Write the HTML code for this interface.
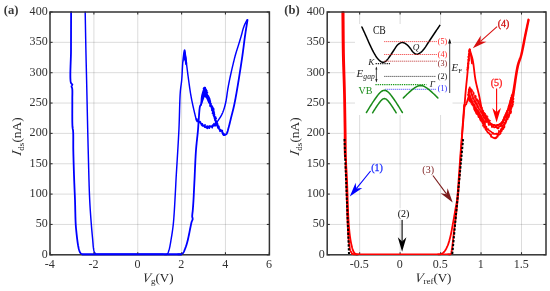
<!DOCTYPE html><html><head><meta charset="utf-8"><style>
html,body{margin:0;padding:0;background:#fff;}
svg{display:block;}
text{font-family:"Liberation Serif",serif;}
.tk{font-size:11.6px;fill:#303030;}
.al{font-size:10px;}
.alb{stroke-width:0.3px;}
.il{font-size:8px;}
.it9{font-size:9.2px;fill:#111;}
.it9i{font-size:9.2px;font-style:italic;fill:#222;}
.sub{font-size:6.5px;font-style:normal;}
.pl{font-size:12.6px;font-weight:bold;fill:#3a3a3a;}
.xl{font-size:13px;fill:#262626;}
.yl{font-size:13.4px;fill:#262626;}
.xsub{font-size:9px;}
</style></head><body><svg width="550" height="291" viewBox="0 0 550 291">
<rect width="550" height="291" fill="#fff"/>
<line x1="93.90" y1="12.0" x2="93.90" y2="254.8" stroke="#262626" stroke-opacity="0.16" stroke-width="1"/>
<line x1="137.75" y1="12.0" x2="137.75" y2="254.8" stroke="#262626" stroke-opacity="0.16" stroke-width="1"/>
<line x1="181.60" y1="12.0" x2="181.60" y2="254.8" stroke="#262626" stroke-opacity="0.16" stroke-width="1"/>
<line x1="225.45" y1="12.0" x2="225.45" y2="254.8" stroke="#262626" stroke-opacity="0.16" stroke-width="1"/>
<line x1="50.0" y1="224.45" x2="269.4" y2="224.45" stroke="#262626" stroke-opacity="0.16" stroke-width="1"/>
<line x1="50.0" y1="194.10" x2="269.4" y2="194.10" stroke="#262626" stroke-opacity="0.16" stroke-width="1"/>
<line x1="50.0" y1="163.75" x2="269.4" y2="163.75" stroke="#262626" stroke-opacity="0.16" stroke-width="1"/>
<line x1="50.0" y1="133.40" x2="269.4" y2="133.40" stroke="#262626" stroke-opacity="0.16" stroke-width="1"/>
<line x1="50.0" y1="103.05" x2="269.4" y2="103.05" stroke="#262626" stroke-opacity="0.16" stroke-width="1"/>
<line x1="50.0" y1="72.70" x2="269.4" y2="72.70" stroke="#262626" stroke-opacity="0.16" stroke-width="1"/>
<line x1="50.0" y1="42.35" x2="269.4" y2="42.35" stroke="#262626" stroke-opacity="0.16" stroke-width="1"/>
<line x1="359.63" y1="12.0" x2="359.63" y2="254.8" stroke="#262626" stroke-opacity="0.16" stroke-width="1"/>
<line x1="400.10" y1="12.0" x2="400.10" y2="254.8" stroke="#262626" stroke-opacity="0.16" stroke-width="1"/>
<line x1="440.57" y1="12.0" x2="440.57" y2="254.8" stroke="#262626" stroke-opacity="0.16" stroke-width="1"/>
<line x1="481.03" y1="12.0" x2="481.03" y2="254.8" stroke="#262626" stroke-opacity="0.16" stroke-width="1"/>
<line x1="521.50" y1="12.0" x2="521.50" y2="254.8" stroke="#262626" stroke-opacity="0.16" stroke-width="1"/>
<line x1="327.2" y1="224.45" x2="546.0" y2="224.45" stroke="#262626" stroke-opacity="0.16" stroke-width="1"/>
<line x1="327.2" y1="194.10" x2="546.0" y2="194.10" stroke="#262626" stroke-opacity="0.16" stroke-width="1"/>
<line x1="327.2" y1="163.75" x2="546.0" y2="163.75" stroke="#262626" stroke-opacity="0.16" stroke-width="1"/>
<line x1="327.2" y1="133.40" x2="546.0" y2="133.40" stroke="#262626" stroke-opacity="0.16" stroke-width="1"/>
<line x1="327.2" y1="103.05" x2="546.0" y2="103.05" stroke="#262626" stroke-opacity="0.16" stroke-width="1"/>
<line x1="327.2" y1="72.70" x2="546.0" y2="72.70" stroke="#262626" stroke-opacity="0.16" stroke-width="1"/>
<line x1="327.2" y1="42.35" x2="546.0" y2="42.35" stroke="#262626" stroke-opacity="0.16" stroke-width="1"/>
<polyline points="71.10,12.00 71.10,12.98 71.09,13.95 71.09,14.93 71.09,15.91 71.09,16.89 71.08,17.87 71.08,18.86 71.08,19.84 71.07,20.82 71.07,21.81 71.07,22.79 71.07,23.78 71.06,24.77 71.06,25.75 71.06,26.74 71.05,27.72 71.05,28.71 71.05,29.69 71.04,30.68 71.04,31.66 71.04,32.64 71.04,33.62 71.03,34.60 71.03,35.58 71.03,36.56 71.03,37.53 71.02,38.51 71.02,39.48 71.02,40.45 71.02,41.41 71.01,42.38 71.01,43.34 71.01,44.30 71.01,45.26 71.01,46.21 71.00,47.16 71.00,48.11 71.00,49.06 71.00,50.00 71.00,51.02 70.98,52.07 70.97,53.15 70.94,54.25 70.91,55.37 70.88,56.51 70.85,57.66 70.81,58.83 70.77,60.00 70.72,61.18 70.68,62.36 70.64,63.54 70.60,64.71 70.55,65.88 70.52,67.03 70.48,68.18 70.44,69.31 70.41,70.42 70.39,71.50 70.37,72.56 70.35,73.59 70.35,74.59 70.35,75.56 70.35,76.49 70.37,77.37 70.39,78.21 70.43,79.01 70.47,79.75 70.53,80.45 70.60,81.08 70.68,81.66 70.77,82.17 70.88,82.62 71.00,83.00 71.52,83.73 72.09,84.16 72.40,84.60 71.99,85.37 71.50,86.20 71.61,86.86 71.93,87.58 72.20,88.50 72.28,89.13 72.33,89.85 72.36,90.64 72.38,91.50 72.38,92.42 72.37,93.39 72.36,94.42 72.34,95.48 72.32,96.58 72.30,97.70 72.30,98.84 72.30,100.00 72.31,100.79 72.31,101.64 72.31,102.53 72.31,103.47 72.31,104.45 72.30,105.47 72.30,106.52 72.30,107.59 72.29,108.68 72.29,109.79 72.28,110.91 72.28,112.04 72.28,113.17 72.27,114.29 72.27,115.41 72.28,116.51 72.28,117.60 72.28,118.67 72.29,119.70 72.30,120.71 72.31,121.67 72.33,122.60 72.35,123.48 72.37,124.30 72.40,125.08 72.43,125.78 72.46,126.43 72.50,127.00 72.61,127.98 72.73,128.71 72.87,129.36 73.00,130.06 73.10,131.00 73.14,131.63 73.18,132.32 73.21,133.06 73.23,133.85 73.25,134.70 73.26,135.58 73.27,136.50 73.27,137.46 73.27,138.44 73.27,139.45 73.27,140.49 73.26,141.53 73.26,142.59 73.26,143.66 73.26,144.74 73.26,145.81 73.26,146.87 73.27,147.93 73.28,148.97 73.30,150.00 73.32,150.91 73.34,151.83 73.36,152.78 73.38,153.74 73.40,154.71 73.43,155.70 73.45,156.70 73.48,157.71 73.51,158.72 73.53,159.74 73.56,160.75 73.59,161.77 73.62,162.79 73.65,163.81 73.68,164.82 73.71,165.82 73.74,166.81 73.77,167.79 73.80,168.76 73.83,169.71 73.86,170.65 73.89,171.57 73.92,172.46 73.95,173.33 73.97,174.18 74.00,175.00 74.04,176.06 74.07,177.08 74.11,178.07 74.14,179.04 74.18,179.98 74.21,180.89 74.25,181.80 74.28,182.69 74.32,183.57 74.36,184.45 74.39,185.32 74.43,186.21 74.46,187.10 74.50,188.00 74.54,188.93 74.58,189.83 74.61,190.72 74.65,191.59 74.69,192.46 74.73,193.33 74.77,194.21 74.81,195.11 74.85,196.02 74.88,196.96 74.92,197.93 74.96,198.94 75.00,200.00 75.03,200.82 75.05,201.68 75.08,202.57 75.10,203.50 75.13,204.46 75.15,205.44 75.18,206.45 75.20,207.47 75.22,208.51 75.24,209.56 75.27,210.62 75.29,211.68 75.32,212.74 75.34,213.79 75.37,214.84 75.39,215.87 75.42,216.89 75.45,217.89 75.48,218.86 75.51,219.81 75.55,220.72 75.58,221.61 75.62,222.45 75.66,223.25 75.70,224.00 75.77,225.08 75.84,226.10 75.92,227.06 75.99,227.97 76.08,228.84 76.16,229.69 76.24,230.52 76.33,231.34 76.41,232.17 76.50,233.00 76.59,233.92 76.69,234.83 76.79,235.71 76.88,236.59 76.98,237.45 77.09,238.31 77.19,239.16 77.30,240.00 77.42,240.89 77.54,241.78 77.66,242.66 77.79,243.53 77.92,244.38 78.05,245.20 78.20,246.00 78.38,246.93 78.56,247.83 78.75,248.70 78.96,249.52 79.20,250.30 79.55,251.30 79.94,252.23 80.40,253.00 81.07,253.73 81.80,254.20 82.36,254.30 83.00,254.30 83.64,254.31 84.39,254.31 85.19,254.30 86.00,254.30 86.76,254.30 87.56,254.30 88.37,254.30 89.19,254.30 90.00,254.30 90.80,254.30 91.60,254.30 92.40,254.30 93.20,254.30 94.00,254.30 94.80,254.30 95.60,254.30 96.40,254.30 97.20,254.30 98.00,254.30 98.80,254.30 99.60,254.30 100.40,254.30 101.20,254.30 102.00,254.30 102.80,254.30 103.60,254.30 104.40,254.30 105.20,254.30 106.00,254.30 106.80,254.30 107.60,254.30 108.40,254.30 109.20,254.30 110.00,254.30 110.80,254.30 111.60,254.30 112.40,254.30 113.20,254.30 114.00,254.30 114.80,254.30 115.60,254.30 116.40,254.30 117.20,254.30 118.00,254.30 118.80,254.30 119.60,254.30 120.40,254.30 121.20,254.30 122.00,254.30 122.80,254.30 123.60,254.30 124.40,254.30 125.20,254.30 126.00,254.30 126.80,254.30 127.60,254.30 128.40,254.30 129.20,254.30 130.00,254.30 130.80,254.30 131.60,254.30 132.40,254.30 133.20,254.30 134.00,254.30 134.80,254.30 135.60,254.30 136.40,254.30 137.20,254.30 138.00,254.30 138.80,254.30 139.60,254.30 140.40,254.30 141.20,254.30 142.00,254.30 142.80,254.30 143.60,254.30 144.40,254.30 145.20,254.30 146.00,254.30 146.80,254.30 147.60,254.30 148.40,254.30 149.20,254.30 150.00,254.30 150.80,254.30 151.60,254.30 152.40,254.30 153.20,254.30 154.00,254.30 154.80,254.30 155.60,254.30 156.40,254.30 157.20,254.30 158.00,254.30 158.80,254.30 159.60,254.30 160.40,254.30 161.20,254.30 162.00,254.30 162.80,254.30 163.60,254.30 164.40,254.30 165.20,254.30 166.00,254.30 166.80,254.30 167.60,254.30 168.40,254.30 169.20,254.30 170.00,254.30 170.80,254.30 171.60,254.30 172.40,254.30 173.20,254.30 174.00,254.30 174.80,254.30 175.61,254.30 176.42,254.30 177.21,254.30 178.00,254.30 178.91,254.30 179.81,254.30 180.70,254.30 181.60,254.30" fill="none" stroke="#0000ff" stroke-width="1.8" stroke-linejoin="round" stroke-linecap="round" />
<polyline points="178.00,254.30 178.94,254.29 179.91,254.31 180.82,254.27 181.60,254.10 182.21,253.79 182.72,253.36 183.20,252.80 183.64,252.14 184.05,251.33 184.44,250.43 184.82,249.47 185.20,248.50 185.52,247.65 185.84,246.77 186.15,245.85 186.45,244.90 186.74,243.94 187.03,242.97 187.30,242.00 187.54,241.09 187.77,240.17 187.99,239.23 188.20,238.29 188.40,237.34 188.60,236.39 188.80,235.44 189.00,234.50 189.20,233.55 189.39,232.59 189.58,231.62 189.77,230.66 189.96,229.70 190.14,228.77 190.32,227.86 190.50,227.00 190.69,226.09 190.86,225.21 191.04,224.35 191.21,223.53 191.40,222.74 191.60,222.00 191.90,221.18 192.25,220.42 192.55,219.70 192.70,219.00 192.61,218.29 192.37,217.61 192.20,216.80 192.19,216.04 192.24,215.17 192.33,214.22 192.45,213.20 192.58,212.15 192.70,211.07 192.80,210.00 192.87,209.16 192.93,208.30 193.00,207.41 193.07,206.51 193.13,205.59 193.20,204.65 193.26,203.72 193.32,202.78 193.39,201.84 193.44,200.92 193.50,200.00 193.55,199.09 193.60,198.18 193.65,197.27 193.70,196.36 193.74,195.45 193.78,194.55 193.83,193.64 193.87,192.73 193.91,191.82 193.96,190.91 194.00,190.00 194.04,189.11 194.09,188.25 194.13,187.42 194.17,186.59 194.21,185.76 194.25,184.91 194.30,184.03 194.34,183.11 194.39,182.14 194.44,181.11 194.50,180.00 194.54,179.27 194.57,178.51 194.61,177.71 194.65,176.87 194.68,176.01 194.72,175.11 194.76,174.19 194.80,173.25 194.85,172.28 194.89,171.30 194.93,170.29 194.97,169.28 195.02,168.24 195.06,167.20 195.11,166.15 195.16,165.09 195.21,164.03 195.26,162.97 195.31,161.91 195.36,160.85 195.41,159.79 195.46,158.74 195.52,157.71 195.58,156.68 195.63,155.66 195.69,154.67 195.75,153.69 195.81,152.73 195.87,151.79 195.94,150.88 196.00,150.00 196.08,148.95 196.17,147.91 196.26,146.87 196.35,145.83 196.45,144.81 196.56,143.79 196.66,142.78 196.76,141.78 196.87,140.78 196.98,139.80 197.08,138.83 197.19,137.88 197.29,136.94 197.40,136.01 197.49,135.10 197.59,134.20 197.68,133.32 197.77,132.46 197.85,131.62 197.93,130.80 198.00,130.00 198.08,128.97 198.16,128.00 198.22,127.07 198.28,126.18 198.33,125.32 198.39,124.47 198.44,123.62 198.49,122.75 198.55,121.87 198.62,120.96 198.70,120.00 198.77,119.10 198.84,118.14 198.91,117.12 198.98,116.06 199.06,114.97 199.13,113.88 199.21,112.78 199.30,111.71 199.39,110.67 199.48,109.69 199.59,108.76 199.70,107.92 199.82,107.16 199.96,106.52 200.10,106.00 200.55,105.23 201.00,104.50 201.16,103.87 201.29,103.09 201.38,102.19 201.46,101.20 201.54,100.15 201.61,99.08 201.71,98.01 201.84,96.97 202.00,96.00 202.21,95.07 202.44,94.14 202.70,93.22 202.97,92.29 203.26,91.38 203.55,90.46 203.84,89.54 204.13,88.62 204.40,87.70" fill="none" stroke="#0000ff" stroke-width="1.8" stroke-linejoin="round" stroke-linecap="round" />
<polyline points="203.60,88.46 205.16,87.64 204.75,88.54 205.27,89.77 204.22,88.57 206.03,89.94 206.04,89.47 205.52,91.53 205.23,92.50 206.88,90.97 205.16,92.59 207.37,92.74 205.98,93.33 205.76,93.39 206.86,94.49 206.61,94.41 206.78,95.41 207.14,94.95 208.54,96.62 208.31,96.31 209.25,98.29 207.50,97.63 208.99,98.96 209.63,98.83 209.56,99.87 208.57,100.19 210.01,101.26 209.34,101.20 208.48,100.93 210.32,101.81 209.11,102.61 210.45,103.38 209.92,103.37 210.42,104.61 210.65,104.27 210.78,103.97 210.00,105.95 212.26,106.21 211.17,105.77 211.60,108.06 212.40,107.59 212.79,107.41 212.20,109.50 212.50,108.91 211.99,109.61 213.67,108.91 213.46,111.21 213.85,111.53 213.85,111.54 213.47,111.84 212.52,113.31 213.82,112.34 213.84,113.47 213.68,113.66 214.24,114.77 214.55,114.91 213.42,114.91 213.90,116.19 215.56,117.16 215.57,117.70 214.53,118.25 215.61,117.08 214.32,117.43 216.10,118.45 214.83,119.77 215.50,119.05 215.24,120.56 215.42,120.50 216.77,121.40 216.10,121.91 215.64,122.18 216.70,122.21 216.21,124.24 217.29,123.18 217.69,124.98 216.60,123.69 217.07,125.70 217.29,126.13 218.62,126.24 217.81,127.65 219.27,127.11 218.20,127.86 218.77,128.17 218.91,128.74 218.63,128.46 220.93,130.18 219.77,130.59 220.08,131.22 221.34,130.52 220.56,130.07 222.23,130.58 222.40,133.07 222.15,131.78 223.21,133.90 223.25,133.23 222.93,133.23 222.95,134.31 223.85,133.61 223.53,135.01 224.35,135.00" fill="none" stroke="#0000ff" stroke-width="1.8" stroke-linejoin="round" stroke-linecap="round" />
<polyline points="204.30,87.82 205.43,88.11 204.77,88.83 204.30,89.16 205.37,90.20 204.48,89.70 204.65,91.19 206.03,90.13 206.79,92.45 206.31,92.23 205.51,91.53 206.46,92.12 205.98,92.98 205.86,93.93 206.88,95.18 207.24,95.28 207.40,95.82 207.51,95.56 208.80,97.49 208.68,97.42 207.80,96.96 207.91,97.14 209.03,98.30 209.36,98.77 209.75,100.19 208.00,99.42 209.99,100.44 210.29,100.79 208.65,101.76 210.22,101.54 209.01,102.17 210.93,103.52 209.44,102.99 209.60,103.12 211.19,103.86 210.92,104.89 210.38,105.96 210.46,106.29 210.63,106.34 211.03,106.54 212.74,108.11 211.61,108.77 211.59,108.29 213.04,109.28 211.70,110.48 212.09,109.52 213.38,110.16 212.59,110.15 212.35,111.67 212.82,112.20 213.24,112.41 214.58,112.97 213.98,114.23 213.37,113.31" fill="none" stroke="#0000ff" stroke-width="1.2" stroke-linejoin="round" stroke-linecap="round" />
<polyline points="224.80,135.00 225.68,134.61 226.50,134.00 226.86,133.44 227.17,132.73 227.45,131.89 227.72,130.97 227.97,129.99 228.23,128.99 228.50,128.00 228.73,127.19 228.95,126.36 229.18,125.50 229.40,124.61 229.62,123.71 229.85,122.78 230.07,121.84 230.30,120.89 230.53,119.93 230.76,118.97 231.00,118.00 231.22,117.13 231.44,116.26 231.66,115.39 231.89,114.50 232.12,113.61 232.35,112.72 232.59,111.81 232.82,110.89 233.05,109.95 233.29,109.00 233.52,108.03 233.75,107.04 233.98,106.03 234.20,105.00 234.38,104.15 234.56,103.30 234.73,102.42 234.91,101.54 235.08,100.64 235.25,99.73 235.43,98.82 235.60,97.89 235.77,96.94 235.94,95.99 236.11,95.03 236.29,94.07 236.46,93.09 236.63,92.10 236.80,91.11 236.97,90.11 237.14,89.11 237.31,88.10 237.48,87.08 237.65,86.06 237.83,85.03 238.00,84.00 238.15,83.10 238.30,82.19 238.46,81.26 238.61,80.32 238.77,79.37 238.92,78.41 239.08,77.43 239.24,76.45 239.40,75.46 239.55,74.46 239.71,73.46 239.87,72.45 240.03,71.44 240.19,70.43 240.34,69.42 240.50,68.40 240.66,67.40 240.81,66.39 240.96,65.39 241.11,64.39 241.26,63.40 241.41,62.42 241.56,61.45 241.70,60.49 241.84,59.54 241.98,58.60 242.11,57.68 242.25,56.77 242.37,55.87 242.50,55.00 242.65,53.96 242.79,52.93 242.93,51.92 243.06,50.92 243.19,49.93 243.32,48.96 243.44,47.99 243.56,47.03 243.68,46.09 243.80,45.15 243.92,44.22 244.03,43.29 244.15,42.37 244.27,41.45 244.38,40.54 244.50,39.63 244.62,38.72 244.75,37.81 244.87,36.91 245.00,36.00 245.14,35.02 245.29,34.05 245.43,33.09 245.57,32.14 245.72,31.19 245.87,30.25 246.02,29.31 246.16,28.38 246.31,27.45 246.46,26.52 246.61,25.59 246.76,24.66 246.91,23.73 247.06,22.81 247.20,21.87 247.35,20.94 247.50,20.00" fill="none" stroke="#0000ff" stroke-width="1.8" stroke-linejoin="round" stroke-linecap="round" />
<polyline points="247.00,20.00 246.57,20.83 246.14,21.66 245.70,22.49 245.28,23.32 244.87,24.16 244.50,25.00 244.17,25.82 243.87,26.65 243.58,27.49 243.31,28.32 243.05,29.16 242.80,30.00 242.57,30.81 242.36,31.60 242.17,32.39 241.97,33.21 241.75,34.07 241.50,35.00 241.28,35.78 241.04,36.61 240.78,37.48 240.51,38.39 240.23,39.32 239.95,40.26 239.65,41.22 239.36,42.18 239.07,43.14 238.78,44.08 238.50,45.00 238.22,45.90 237.95,46.77 237.67,47.63 237.39,48.49 237.11,49.35 236.83,50.21 236.55,51.10 236.27,52.02 235.98,52.97 235.69,53.96 235.40,55.00 235.18,55.81 234.96,56.65 234.73,57.53 234.49,58.44 234.26,59.37 234.02,60.33 233.78,61.31 233.53,62.30 233.29,63.30 233.05,64.32 232.80,65.34 232.56,66.36 232.33,67.38 232.09,68.39 231.86,69.39 231.63,70.38 231.41,71.35 231.20,72.30 230.99,73.23 230.79,74.13 230.60,75.00 230.38,76.01 230.17,76.99 229.96,77.95 229.77,78.88 229.57,79.80 229.39,80.71 229.21,81.61 229.03,82.50 228.86,83.40 228.69,84.29 228.51,85.20 228.34,86.12 228.17,87.05 228.00,88.00 227.84,88.91 227.69,89.84 227.55,90.79 227.41,91.75 227.27,92.71 227.14,93.68 227.00,94.66 226.87,95.63 226.73,96.60 226.59,97.56 226.44,98.51 226.29,99.45 226.13,100.37 225.97,101.27 225.79,102.15 225.60,103.00 225.36,104.00 225.12,104.99 224.87,105.95 224.61,106.90 224.34,107.83 224.06,108.74 223.77,109.63 223.48,110.50 223.16,111.36 222.84,112.19 222.50,113.00 222.08,113.93 221.63,114.83 221.17,115.70 220.69,116.54 220.20,117.36 219.70,118.16 219.20,118.94 218.70,119.70 218.19,120.44 217.67,121.15 217.14,121.83 216.60,122.50 216.07,123.16 215.53,123.82 215.00,124.50" fill="none" stroke="#0000ff" stroke-width="1.45" stroke-linejoin="round" stroke-linecap="round" />
<polyline points="215.55,125.57 214.02,123.78 214.51,125.62 213.87,124.87 213.35,125.87 212.88,125.07 212.25,125.91 212.16,127.63 211.98,126.83 210.93,126.44 209.91,125.95 209.89,126.73 209.26,128.19 208.90,127.48 208.02,126.27 207.59,126.63 207.33,128.45 207.05,126.24 206.83,127.46 206.16,127.48 205.72,126.95 204.74,127.15 204.99,124.94 204.26,126.02 203.43,125.32 202.99,126.02 202.59,125.48 202.00,125.29 202.24,123.96 201.42,124.75 201.20,123.40 200.18,122.69 200.34,122.00 200.16,121.90 199.73,121.65 199.35,122.26 198.37,121.46 198.12,121.29 197.27,120.03 197.08,121.43 196.78,119.03 196.58,120.24" fill="none" stroke="#0000ff" stroke-width="1.8" stroke-linejoin="round" stroke-linecap="round" />
<polyline points="196.20,119.70 195.99,118.78 195.77,117.86 195.55,116.94 195.33,116.01 195.10,115.08 194.88,114.15 194.66,113.22 194.44,112.30 194.22,111.37 194.01,110.46 193.80,109.55 193.59,108.65 193.39,107.75 193.19,106.87 193.00,106.00 192.79,105.05 192.59,104.12 192.40,103.21 192.21,102.31 192.02,101.42 191.84,100.54 191.67,99.65 191.49,98.75 191.32,97.85 191.14,96.92 190.97,95.97 190.80,95.00 190.65,94.13 190.51,93.25 190.36,92.37 190.22,91.47 190.09,90.56 189.95,89.64 189.81,88.72 189.68,87.78 189.55,86.84 189.41,85.89 189.28,84.93 189.14,83.96 189.01,82.98 188.87,82.00 188.74,81.00 188.60,80.00 188.48,79.10 188.35,78.18 188.23,77.23 188.10,76.27 187.97,75.29 187.84,74.30 187.71,73.29 187.58,72.28 187.45,71.27 187.32,70.26 187.19,69.25 187.07,68.24 186.94,67.25 186.82,66.26 186.69,65.30 186.57,64.35 186.45,63.42 186.33,62.52 186.22,61.65 186.11,60.81 186.00,60.00 185.86,58.89 185.73,57.70 185.60,56.48 185.47,55.27 185.35,54.10 185.23,53.00 185.11,52.02 184.99,51.19 184.86,50.56 184.73,50.15 184.60,50.00 184.46,50.14 184.31,50.55 184.16,51.19 184.01,52.01 183.85,52.99 183.70,54.09 183.55,55.26 183.40,56.48 183.26,57.70 183.13,58.88 183.00,60.00 182.91,60.81 182.84,61.66 182.76,62.54 182.69,63.45 182.63,64.39 182.56,65.36 182.51,66.34 182.45,67.34 182.39,68.35 182.34,69.37 182.29,70.40 182.24,71.42 182.19,72.44 182.13,73.46 182.08,74.46 182.02,75.44 181.97,76.41 181.91,77.35 181.84,78.27 181.77,79.15 181.70,80.00 181.60,81.01 181.50,81.95 181.39,82.84 181.28,83.70 181.17,84.53 181.05,85.36 180.94,86.18 180.82,87.03 180.71,87.91 180.60,88.83 180.49,89.81 180.39,90.86 180.30,92.00 180.25,92.71 180.20,93.45 180.15,94.21 180.10,94.99 180.06,95.79 180.02,96.62 179.98,97.46 179.94,98.32 179.90,99.20 179.87,100.10 179.83,101.02 179.80,101.95 179.77,102.89 179.74,103.85 179.71,104.82 179.68,105.81 179.65,106.80 179.62,107.81 179.59,108.83 179.56,109.85 179.54,110.89 179.51,111.93 179.48,112.98 179.45,114.03 179.42,115.09 179.39,116.16 179.36,117.22 179.33,118.29 179.30,119.37 179.27,120.44 179.23,121.51 179.20,122.58 179.16,123.65 179.12,124.72 179.08,125.79 179.04,126.85 178.99,127.90 178.95,128.96 178.90,130.00 178.86,130.92 178.81,131.87 178.76,132.83 178.71,133.80 178.66,134.80 178.61,135.80 178.55,136.82 178.50,137.86 178.44,138.90 178.38,139.96 178.32,141.03 178.26,142.10 178.20,143.19 178.14,144.28 178.07,145.37 178.01,146.47 177.94,147.58 177.88,148.68 177.81,149.79 177.75,150.90 177.68,152.01 177.62,153.11 177.55,154.22 177.48,155.32 177.42,156.41 177.35,157.50 177.28,158.59 177.22,159.67 177.15,160.73 177.09,161.79 177.02,162.84 176.96,163.88 176.90,164.90 176.84,165.91 176.77,166.90 176.71,167.88 176.66,168.85 176.60,169.79 176.54,170.72 176.49,171.62 176.43,172.51 176.38,173.37 176.33,174.22 176.28,175.03 176.24,175.83 176.19,176.59 176.15,177.33 176.11,178.04 176.07,178.73 176.03,179.38 176.00,180.00 175.94,181.17 175.89,182.20 175.84,183.12 175.80,183.95 175.77,184.73 175.73,185.48 175.70,186.25 175.66,187.05 175.61,187.92 175.56,188.90 175.50,190.00 175.46,190.70 175.42,191.45 175.38,192.23 175.33,193.06 175.28,193.91 175.24,194.80 175.19,195.71 175.14,196.66 175.08,197.62 175.03,198.62 174.98,199.63 174.92,200.66 174.86,201.70 174.80,202.76 174.74,203.83 174.68,204.91 174.62,205.99 174.56,207.08 174.49,208.17 174.42,209.26 174.36,210.35 174.29,211.43 174.22,212.51 174.15,213.57 174.08,214.63 174.00,215.67 173.93,216.69 173.85,217.69 173.78,218.68 173.70,219.64 173.62,220.57 173.54,221.47 173.46,222.35 173.38,223.19 173.30,224.00 173.18,225.11 173.06,226.18 172.94,227.23 172.81,228.26 172.68,229.27 172.55,230.25 172.41,231.21 172.27,232.15 172.14,233.08 172.00,233.98 171.86,234.88 171.71,235.76 171.57,236.62 171.43,237.48 171.29,238.33 171.14,239.17 171.00,240.00 170.83,241.02 170.66,242.02 170.50,243.02 170.33,244.00 170.16,244.96 169.99,245.89 169.82,246.79 169.63,247.65 169.43,248.48 169.22,249.26 169.00,250.00 168.67,251.06 168.36,252.08 168.00,253.00 167.57,253.76 167.00,254.30 166.33,254.54 165.55,254.57 164.70,254.48 163.83,254.36 163.00,254.30 162.20,254.30 161.40,254.30 160.60,254.30 159.80,254.30 159.00,254.30 158.20,254.30 157.40,254.30 156.60,254.30 155.80,254.30 155.00,254.30 154.20,254.30 153.40,254.30 152.60,254.30 151.80,254.30 151.00,254.30 150.20,254.30 149.40,254.30 148.60,254.30 147.80,254.30 147.00,254.30 146.20,254.30 145.40,254.30 144.60,254.30 143.80,254.30 143.00,254.30 142.20,254.30 141.40,254.30 140.60,254.30 139.80,254.30 139.00,254.30 138.20,254.30 137.40,254.30 136.60,254.30 135.80,254.30 135.00,254.30 134.20,254.30 133.40,254.30 132.60,254.30 131.80,254.30 131.00,254.30 130.20,254.30 129.40,254.30 128.60,254.30 127.80,254.30 127.00,254.30 126.20,254.30 125.40,254.30 124.60,254.30 123.80,254.30 123.00,254.30 122.20,254.30 121.40,254.30 120.60,254.30 119.80,254.30 119.00,254.30 118.20,254.30 117.40,254.30 116.60,254.30 115.80,254.30 115.00,254.30 114.20,254.30 113.40,254.30 112.60,254.30 111.80,254.30 111.00,254.30 110.20,254.30 109.40,254.30 108.60,254.30 107.80,254.30 107.00,254.30 106.20,254.30 105.40,254.30 104.60,254.30 103.80,254.30 103.00,254.30 102.18,254.30 101.33,254.30 100.50,254.30 99.71,254.30 99.00,254.30 98.27,254.31 97.61,254.33 97.00,254.30 96.26,254.23 95.60,254.00 94.99,253.34 94.50,252.40 94.25,251.76 94.03,251.04 93.84,250.25 93.66,249.40 93.50,248.50 93.38,247.70 93.28,246.87 93.19,246.00 93.12,245.10 93.05,244.14 92.97,243.15 92.89,242.10 92.80,241.00 92.73,240.23 92.66,239.43 92.58,238.60 92.50,237.74 92.42,236.86 92.33,235.95 92.25,235.02 92.16,234.08 92.07,233.11 91.99,232.13 91.90,231.14 91.81,230.14 91.72,229.13 91.63,228.11 91.55,227.08 91.46,226.06 91.38,225.03 91.30,224.00 91.23,223.12 91.16,222.25 91.10,221.37 91.03,220.49 90.96,219.61 90.89,218.72 90.82,217.83 90.76,216.93 90.69,216.03 90.62,215.12 90.56,214.20 90.49,213.27 90.43,212.34 90.36,211.39 90.30,210.43 90.23,209.46 90.17,208.47 90.11,207.47 90.05,206.46 89.99,205.43 89.93,204.38 89.87,203.31 89.81,202.23 89.76,201.12 89.70,200.00 89.66,199.19 89.62,198.37 89.59,197.55 89.55,196.71 89.51,195.86 89.48,195.00 89.44,194.13 89.41,193.26 89.38,192.37 89.34,191.48 89.31,190.57 89.28,189.66 89.25,188.74 89.22,187.82 89.18,186.88 89.15,185.94 89.12,184.99 89.09,184.03 89.07,183.07 89.04,182.10 89.01,181.13 88.98,180.14 88.95,179.16 88.92,178.16 88.90,177.16 88.87,176.16 88.84,175.15 88.81,174.13 88.79,173.12 88.76,172.09 88.73,171.07 88.71,170.03 88.68,169.00 88.65,167.96 88.63,166.92 88.60,165.88 88.58,164.83 88.55,163.78 88.52,162.73 88.50,161.67 88.47,160.62 88.44,159.56 88.42,158.50 88.39,157.44 88.36,156.38 88.34,155.32 88.31,154.25 88.28,153.19 88.26,152.13 88.23,151.06 88.20,150.00 88.18,149.09 88.15,148.17 88.13,147.25 88.10,146.31 88.08,145.36 88.06,144.41 88.03,143.44 88.01,142.47 87.98,141.49 87.96,140.50 87.94,139.51 87.91,138.51 87.89,137.50 87.86,136.49 87.84,135.47 87.81,134.45 87.79,133.42 87.77,132.38 87.74,131.34 87.72,130.30 87.69,129.26 87.67,128.21 87.64,127.16 87.62,126.10 87.60,125.05 87.57,123.99 87.55,122.93 87.53,121.87 87.50,120.81 87.48,119.74 87.45,118.68 87.43,117.62 87.41,116.56 87.38,115.50 87.36,114.44 87.34,113.38 87.31,112.32 87.29,111.27 87.27,110.22 87.24,109.17 87.22,108.12 87.20,107.08 87.18,106.05 87.15,105.01 87.13,103.98 87.11,102.96 87.09,101.94 87.06,100.93 87.04,99.92 87.02,98.92 87.00,97.93 86.98,96.94 86.96,95.96 86.93,94.99 86.91,94.03 86.89,93.08 86.87,92.13 86.85,91.19 86.83,90.27 86.81,89.35 86.79,88.44 86.77,87.54 86.75,86.66 86.73,85.78 86.71,84.92 86.69,84.07 86.67,83.23 86.66,82.40 86.64,81.59 86.62,80.79 86.60,80.00 86.57,78.84 86.55,77.72 86.52,76.62 86.50,75.54 86.47,74.49 86.45,73.46 86.42,72.45 86.40,71.46 86.37,70.48 86.35,69.52 86.33,68.57 86.31,67.64 86.28,66.71 86.26,65.80 86.24,64.89 86.22,63.99 86.20,63.09 86.17,62.19 86.15,61.30 86.13,60.40 86.11,59.50 86.09,58.59 86.07,57.68 86.05,56.77 86.03,55.84 86.01,54.90 85.98,53.95 85.96,52.99 85.94,52.01 85.92,51.01 85.90,50.00 85.88,49.08 85.86,48.15 85.84,47.22 85.82,46.29 85.81,45.35 85.79,44.40 85.77,43.45 85.75,42.50 85.73,41.54 85.71,40.57 85.70,39.61 85.68,38.64 85.66,37.67 85.64,36.69 85.62,35.71 85.61,34.73 85.59,33.75 85.57,32.76 85.55,31.77 85.54,30.79 85.52,29.80 85.50,28.80 85.48,27.81 85.46,26.82 85.45,25.83 85.43,24.83 85.41,23.84 85.39,22.85 85.38,21.85 85.36,20.86 85.34,19.87 85.32,18.88 85.31,17.89 85.29,16.90 85.27,15.92 85.25,14.94 85.24,13.95 85.22,12.98 85.20,12.00" fill="none" stroke="#0000ff" stroke-width="1.45" stroke-linejoin="round" stroke-linecap="round" />
<polygon points="204.2,87.6 205.6,89.5 207.2,93.5 209.2,98.5 210.8,103 210.2,105.5 208,102 206,98 204.6,97 203.2,101 201.8,105 200.8,106.5 200.9,102 202.4,95" fill="#0000ff"/>
<polygon points="184.4,49.8 185.6,53 186.6,58 187.2,63 186.8,66 185.2,64.5 184.6,60 183.4,62 183.2,57" fill="#0000ff"/>
<polyline points="342.30,12.00 342.31,12.98 342.32,13.96 342.33,14.94 342.34,15.93 342.35,16.91 342.36,17.90 342.37,18.89 342.38,19.88 342.39,20.87 342.40,21.86 342.41,22.85 342.42,23.85 342.42,24.84 342.43,25.83 342.44,26.83 342.45,27.82 342.46,28.82 342.47,29.81 342.48,30.80 342.48,31.80 342.49,32.79 342.50,33.78 342.51,34.77 342.52,35.75 342.53,36.74 342.54,37.73 342.55,38.71 342.56,39.69 342.57,40.67 342.59,41.65 342.60,42.62 342.61,43.59 342.62,44.56 342.64,45.53 342.65,46.49 342.66,47.45 342.68,48.41 342.69,49.36 342.71,50.31 342.73,51.26 342.74,52.20 342.76,53.14 342.78,54.07 342.80,55.00 342.82,56.02 342.85,57.03 342.87,58.04 342.90,59.03 342.92,60.03 342.95,61.01 342.98,62.00 343.01,62.98 343.04,63.95 343.07,64.92 343.10,65.88 343.14,66.85 343.17,67.81 343.20,68.76 343.24,69.72 343.27,70.67 343.30,71.63 343.34,72.58 343.37,73.53 343.41,74.48 343.44,75.43 343.48,76.39 343.51,77.34 343.54,78.29 343.58,79.25 343.61,80.21 343.64,81.17 343.67,82.13 343.70,83.10 343.73,84.07 343.76,85.05 343.79,86.03 343.82,87.01 343.85,88.00 343.87,89.00 343.90,90.00 343.92,90.95 343.95,91.90 343.97,92.86 343.99,93.83 344.01,94.80 344.03,95.78 344.05,96.76 344.07,97.74 344.09,98.74 344.11,99.73 344.13,100.73 344.14,101.73 344.16,102.73 344.18,103.73 344.20,104.74 344.21,105.75 344.23,106.75 344.25,107.76 344.26,108.77 344.28,109.77 344.30,110.78 344.31,111.78 344.33,112.79 344.34,113.79 344.36,114.78 344.37,115.78 344.39,116.77 344.40,117.75 344.42,118.73 344.43,119.71 344.45,120.68 344.46,121.64 344.48,122.60 344.49,123.56 344.51,124.50 344.52,125.44 344.54,126.37 344.55,127.29 344.57,128.20 344.58,129.11 344.60,130.00 344.62,131.06 344.63,132.14 344.64,133.24 344.65,134.35 344.65,135.47 344.65,136.60 344.65,137.73 344.65,138.87 344.65,140.00 344.65,141.13 344.65,142.26 344.65,143.37 344.65,144.47 344.65,145.56 344.65,146.62 344.66,147.67 344.66,148.69 344.67,149.69 344.69,150.65 344.71,151.58 344.73,152.48 344.75,153.33 344.78,154.15 344.82,154.92 344.86,155.64 344.91,156.31 344.97,156.93 345.03,157.50 345.10,158.00 345.33,158.97 345.61,159.70 345.86,160.32 346.00,161.00 345.98,161.69 345.85,162.35 345.70,163.08 345.60,164.00 345.58,164.60 345.57,165.26 345.58,165.97 345.59,166.74 345.62,167.56 345.65,168.42 345.69,169.33 345.73,170.27 345.78,171.25 345.84,172.27 345.89,173.31 345.95,174.38 346.00,175.47 346.06,176.58 346.11,177.71 346.16,178.85 346.20,180.00 346.23,180.77 346.25,181.58 346.28,182.41 346.31,183.27 346.34,184.16 346.37,185.07 346.40,186.00 346.43,186.96 346.46,187.94 346.49,188.93 346.52,189.94 346.55,190.97 346.58,192.01 346.61,193.06 346.64,194.13 346.68,195.20 346.71,196.27 346.74,197.36 346.77,198.44 346.81,199.53 346.84,200.62 346.87,201.71 346.91,202.79 346.94,203.88 346.97,204.95 347.01,206.02 347.04,207.07 347.07,208.12 347.11,209.16 347.14,210.18 347.17,211.18 347.21,212.17 347.24,213.14 347.27,214.08 347.31,215.01 347.34,215.91 347.37,216.78 347.40,217.63 347.44,218.45 347.47,219.24 347.50,220.00 347.55,221.14 347.60,222.24 347.64,223.30 347.69,224.33 347.73,225.32 347.78,226.29 347.82,227.23 347.87,228.14 347.92,229.04 347.97,229.92 348.02,230.78 348.07,231.63 348.12,232.48 348.18,233.32 348.24,234.16 348.30,235.00 348.38,236.00 348.45,236.98 348.53,237.95 348.61,238.90 348.69,239.83 348.78,240.75 348.87,241.64 348.97,242.52 349.07,243.37 349.18,244.20 349.30,245.00 349.45,245.96 349.61,246.91 349.77,247.83 349.94,248.70 350.13,249.53 350.35,250.30 350.60,251.00 350.94,251.79 351.32,252.50 351.73,253.12 352.20,253.60 353.02,254.06 354.00,254.30 354.69,254.38 355.48,254.39 356.32,254.36" fill="none" stroke="#ff0000" stroke-width="1.8" stroke-linejoin="round" stroke-linecap="round" />
<polyline points="438.00,254.30 438.80,254.35 439.53,254.40 440.30,254.30 441.01,254.05 441.77,253.68 442.55,253.20 443.30,252.64 444.00,252.00 444.58,251.34 445.12,250.59 445.64,249.77 446.13,248.89 446.61,247.96 447.06,246.99 447.50,246.00 447.83,245.20 448.14,244.37 448.44,243.50 448.73,242.61 449.01,241.69 449.28,240.76 449.53,239.81 449.78,238.86 450.03,237.90 450.27,236.95 450.50,236.00 450.72,235.10 450.92,234.20 451.12,233.29 451.30,232.38 451.48,231.47 451.66,230.55 451.83,229.62 452.00,228.68 452.17,227.73 452.34,226.77 452.52,225.79 452.70,224.80 452.86,223.93 453.03,223.03 453.19,222.11 453.36,221.18 453.53,220.23 453.69,219.28 453.86,218.31 454.03,217.35 454.20,216.39 454.36,215.43 454.53,214.48 454.69,213.55 454.85,212.63 455.00,211.73 455.15,210.85 455.30,210.00 455.47,209.03 455.64,208.13 455.80,207.26 455.96,206.41 456.12,205.58 456.27,204.75 456.42,203.89 456.57,203.01 456.72,202.07 456.86,201.07 457.00,200.00 457.09,199.24 457.18,198.45 457.27,197.63 457.36,196.78 457.44,195.90 457.52,195.01 457.60,194.08 457.68,193.14 457.76,192.19 457.84,191.21 457.91,190.22 457.99,189.22 458.06,188.21 458.14,187.19 458.21,186.16 458.28,185.13 458.35,184.10 458.43,183.06 458.50,182.03 458.57,181.00 458.64,179.98 458.71,178.96 458.78,177.95 458.85,176.95 458.93,175.97 459.00,175.00 459.07,174.03 459.15,173.05 459.22,172.05 459.29,171.04 459.37,170.02 459.44,169.00 459.51,167.97 459.58,166.94 459.66,165.91 459.73,164.87 459.80,163.84 459.87,162.82 459.94,161.80 460.01,160.78 460.08,159.78 460.15,158.80 460.22,157.82 460.29,156.86 460.35,155.92 460.42,155.00 460.49,154.10 460.55,153.23 460.61,152.38 460.68,151.55 460.74,150.76 460.80,150.00 460.89,148.94 460.97,147.98 461.05,147.08 461.13,146.24 461.20,145.43 461.28,144.63 461.35,143.82 461.43,142.97 461.52,142.06 461.61,141.08 461.70,140.00 461.76,139.26 461.83,138.48 461.90,137.67 461.97,136.83 462.04,135.96 462.12,135.07 462.19,134.15 462.27,133.20 462.35,132.24 462.43,131.26 462.51,130.26 462.60,129.25 462.68,128.22 462.76,127.19 462.85,126.15 462.93,125.10 463.02,124.05 463.10,123.00 463.19,121.96 463.27,120.91 463.36,119.87 463.44,118.84 463.53,117.81 463.61,116.80 463.69,115.80 463.77,114.82 463.85,113.86 463.92,112.92 464.00,112.00 464.08,110.99 464.16,109.98 464.25,108.97 464.33,107.96 464.41,106.96 464.49,105.97 464.56,104.97 464.64,103.99 464.72,103.00 464.80,102.03 464.87,101.05 464.95,100.09 465.03,99.13 465.10,98.18 465.18,97.24 465.26,96.30 465.33,95.37 465.41,94.45 465.49,93.54 465.57,92.64 465.64,91.75 465.72,90.87 465.80,90.00 465.89,88.99 465.99,88.01 466.08,87.07 466.17,86.14 466.26,85.23 466.35,84.34 466.44,83.45 466.54,82.57 466.63,81.69 466.72,80.79 466.81,79.89 466.91,78.97 467.00,78.02 467.10,77.05 467.20,76.04 467.30,75.00 467.38,74.13 467.46,73.25 467.55,72.35 467.63,71.43 467.72,70.49 467.80,69.54 467.89,68.58 467.98,67.60 468.07,66.61 468.16,65.62 468.25,64.61 468.34,63.60 468.43,62.58 468.52,61.56 468.61,60.53 468.70,59.50 468.79,58.47 468.88,57.43 468.97,56.40 469.06,55.37 469.15,54.35 469.24,53.32 469.33,52.31 469.42,51.30 469.51,50.29 469.60,49.30" fill="none" stroke="#ff0000" stroke-width="1.8" stroke-linejoin="round" stroke-linecap="round" />
<polyline points="469.60,49.30 469.86,50.18 470.13,51.04 470.40,51.89 470.67,52.74 470.94,53.58 471.20,54.43 471.47,55.29 471.73,56.17 471.99,57.08 472.23,58.01 472.47,58.98 472.70,60.00 472.87,60.82 473.02,61.67 473.17,62.55 473.31,63.45 473.45,64.38 473.58,65.33 473.70,66.30 473.82,67.29 473.94,68.28 474.06,69.28 474.18,70.29 474.29,71.30 474.41,72.31 474.53,73.32 474.65,74.32 474.78,75.31 474.91,76.28 475.05,77.24 475.19,78.19 475.34,79.11 475.50,80.00 475.69,81.00 475.89,81.98 476.10,82.95 476.31,83.90 476.53,84.84 476.75,85.77 476.97,86.69 477.20,87.61 477.43,88.53 477.66,89.44 477.89,90.35 478.12,91.27 478.34,92.19 478.57,93.12 478.78,94.05 479.00,95.00 479.20,95.94 479.40,96.91 479.60,97.90 479.79,98.91 479.98,99.93 480.17,100.96 480.36,101.98 480.55,103.00 480.74,104.01 480.93,105.00 481.13,105.97 481.33,106.91 481.53,107.82 481.74,108.69 481.95,109.51 482.17,110.28 482.40,111.00 482.74,111.97 483.09,112.85 483.45,113.65 483.82,114.41 484.20,115.12 484.59,115.81 485.00,116.50 485.52,117.31 486.07,118.06 486.63,118.78 487.21,119.49 487.80,120.20 488.40,120.96 488.99,121.74 489.61,122.50 490.27,123.20 491.00,123.80 491.83,124.31 492.75,124.75 493.70,125.12 494.63,125.37 495.50,125.50 496.29,125.47 497.05,125.32 497.78,125.08 498.50,124.80 499.25,124.51 500.00,124.19 500.72,123.78 501.40,123.20 501.91,122.57 502.38,121.80 502.81,120.93 503.23,119.99 503.64,119.00 504.06,117.99 504.50,117.00 504.89,116.17 505.29,115.32 505.69,114.44 506.10,113.54 506.51,112.62 506.92,111.70 507.31,110.77 507.70,109.84 508.06,108.92 508.40,108.00 508.71,107.09 509.01,106.15 509.29,105.20 509.56,104.24 509.81,103.28 510.06,102.35 510.30,101.44 510.54,100.57 510.77,99.75 511.00,99.00 511.29,98.16 511.57,97.47 511.83,96.80 512.11,96.02 512.40,95.00 512.54,94.45 512.67,93.83 512.82,93.14 512.96,92.38 513.11,91.58 513.27,90.71 513.42,89.80 513.58,88.85 513.74,87.85 513.90,86.82 514.07,85.76 514.24,84.68 514.41,83.57 514.58,82.44 514.75,81.30 514.92,80.16 515.10,79.01 515.28,77.86 515.45,76.71 515.63,75.58 515.81,74.46 515.99,73.35 516.17,72.27 516.35,71.22 516.53,70.20 516.71,69.22 516.89,68.27 517.07,67.38 517.25,66.53 517.42,65.73 517.60,65.00 517.89,63.89 518.19,62.89 518.50,61.96 518.80,61.10 519.10,60.28 519.41,59.47 519.71,58.67 520.02,57.84 520.32,56.96 520.61,56.02 520.90,55.00 521.11,54.20 521.31,53.36 521.52,52.49 521.72,51.59 521.92,50.67 522.12,49.73 522.32,48.76 522.52,47.78 522.72,46.79 522.91,45.79 523.11,44.78 523.30,43.76 523.49,42.75 523.68,41.74 523.87,40.73 524.06,39.74 524.25,38.75 524.44,37.78 524.63,36.83 524.81,35.90 525.00,35.00 525.21,33.98 525.43,32.97 525.64,31.97 525.85,30.99 526.05,30.01 526.26,29.04 526.46,28.08 526.67,27.13 526.87,26.17 527.08,25.23 527.28,24.28 527.48,23.33 527.69,22.38 527.89,21.42 528.09,20.47 528.30,19.50" fill="none" stroke="#ff0000" stroke-width="1.8" stroke-linejoin="round" stroke-linecap="round" />
<polyline points="343.60,12.00 343.61,12.98 343.62,13.96 343.63,14.94 343.63,15.93 343.64,16.91 343.65,17.90 343.66,18.89 343.66,19.88 343.67,20.87 343.68,21.86 343.69,22.85 343.69,23.85 343.70,24.84 343.71,25.83 343.71,26.83 343.72,27.82 343.73,28.82 343.73,29.81 343.74,30.80 343.75,31.79 343.75,32.79 343.76,33.78 343.77,34.77 343.78,35.75 343.78,36.74 343.79,37.73 343.80,38.71 343.81,39.69 343.82,40.67 343.83,41.65 343.84,42.62 343.85,43.59 343.86,44.56 343.87,45.53 343.88,46.49 343.89,47.45 343.90,48.41 343.91,49.36 343.93,50.31 343.94,51.26 343.95,52.20 343.97,53.14 343.98,54.07 344.00,55.00 344.02,56.02 344.04,57.03 344.06,58.04 344.08,59.03 344.10,60.03 344.12,61.01 344.15,62.00 344.17,62.98 344.19,63.95 344.22,64.92 344.25,65.88 344.27,66.85 344.30,67.81 344.32,68.76 344.35,69.72 344.38,70.67 344.41,71.63 344.43,72.58 344.46,73.53 344.49,74.48 344.52,75.43 344.54,76.39 344.57,77.34 344.60,78.29 344.63,79.25 344.65,80.21 344.68,81.17 344.71,82.13 344.73,83.10 344.76,84.07 344.78,85.05 344.81,86.03 344.83,87.01 344.86,88.00 344.88,89.00 344.90,90.00 344.92,90.95 344.94,91.90 344.96,92.86 344.98,93.82 345.00,94.79 345.02,95.76 345.04,96.74 345.06,97.72 345.08,98.71 345.10,99.70 345.11,100.69 345.13,101.69 345.15,102.68 345.17,103.68 345.19,104.68 345.20,105.68 345.22,106.68 345.24,107.69 345.26,108.69 345.27,109.69 345.29,110.69 345.31,111.69 345.32,112.69 345.34,113.69 345.36,114.68 345.37,115.67 345.39,116.66 345.41,117.65 345.42,118.63 345.44,119.61 345.45,120.58 345.47,121.55 345.48,122.52 345.50,123.48 345.51,124.43 345.53,125.37 345.54,126.31 345.56,127.25 345.57,128.17 345.59,129.09 345.60,130.00 345.62,131.04 345.63,132.07 345.64,133.10 345.65,134.13 345.67,135.15 345.68,136.17 345.69,137.19 345.69,138.20 345.70,139.21 345.71,140.21 345.72,141.21 345.73,142.21 345.73,143.20 345.74,144.18 345.75,145.16 345.76,146.14 345.77,147.11 345.78,148.07 345.79,149.03 345.80,149.98 345.81,150.92 345.82,151.86 345.84,152.80 345.85,153.72 345.87,154.64 345.89,155.55 345.91,156.46 345.93,157.35 345.95,158.24 345.97,159.13 346.00,160.00 346.03,161.03 346.07,162.03 346.11,163.01 346.15,163.96 346.20,164.89 346.24,165.81 346.29,166.71 346.33,167.61 346.38,168.49 346.43,169.38 346.48,170.27 346.54,171.16 346.59,172.06 346.64,172.97 346.69,173.90 346.75,174.85 346.80,175.82 346.85,176.82 346.90,177.84 346.95,178.90 347.00,180.00 347.04,180.82 347.07,181.67 347.10,182.54 347.14,183.44 347.17,184.36 347.21,185.30 347.24,186.26 347.27,187.23 347.31,188.22 347.34,189.23 347.37,190.25 347.41,191.29 347.44,192.33 347.48,193.38 347.51,194.44 347.54,195.51 347.58,196.58 347.61,197.65 347.64,198.73 347.68,199.81 347.71,200.88 347.75,201.96 347.78,203.03 347.82,204.09 347.85,205.15 347.89,206.20 347.93,207.24 347.96,208.27 348.00,209.29 348.04,210.29 348.08,211.28 348.12,212.25 348.16,213.20 348.20,214.14 348.24,215.05 348.28,215.94 348.32,216.80 348.37,217.64 348.41,218.46 348.45,219.24 348.50,220.00 348.57,221.14 348.64,222.24 348.71,223.31 348.78,224.33 348.86,225.33 348.93,226.29 349.00,227.23 349.08,228.15 349.16,229.04 349.24,229.92 349.32,230.78 349.41,231.64 349.50,232.48 349.59,233.32 349.69,234.16 349.80,235.00 349.93,236.00 350.06,236.98 350.20,237.94 350.34,238.89 350.49,239.81 350.64,240.73 350.80,241.62 350.96,242.49 351.13,243.35 351.31,244.18 351.50,245.00 351.74,246.04 351.99,247.06 352.24,248.06 352.51,249.01 352.81,249.91 353.13,250.75 353.50,251.50 354.01,252.38 354.56,253.18 355.18,253.83 355.90,254.30 356.62,254.49 357.43,254.52 358.29,254.45" fill="none" stroke="#ff0000" stroke-width="1.8" stroke-linejoin="round" stroke-linecap="round" />
<polyline points="448.00,254.30 449.01,254.40 449.95,254.50 450.70,254.30 451.09,253.75 451.30,252.95 451.44,252.00 451.60,251.00 451.74,250.27 451.87,249.49 452.00,248.67 452.12,247.80 452.24,246.90 452.36,245.96 452.48,245.00 452.60,244.00 452.70,243.20 452.79,242.37 452.89,241.50 452.99,240.62 453.08,239.71 453.18,238.78 453.27,237.83 453.37,236.88 453.47,235.91 453.57,234.93 453.67,233.95 453.78,232.96 453.89,231.98 454.00,231.00 454.11,230.10 454.21,229.20 454.33,228.29 454.44,227.38 454.56,226.46 454.68,225.53 454.80,224.60 454.92,223.66 455.04,222.72 455.16,221.77 455.29,220.82 455.41,219.86 455.53,218.90 455.65,217.93 455.77,216.96 455.89,215.98 456.00,215.00 456.10,214.09 456.21,213.19 456.31,212.28 456.42,211.38 456.52,210.48 456.62,209.57 456.72,208.66 456.82,207.74 456.93,206.82 457.03,205.89 457.13,204.96 457.23,204.02 457.33,203.06 457.42,202.09 457.52,201.12 457.62,200.12 457.71,199.12 457.81,198.10 457.91,197.06 458.00,196.00 458.07,195.14 458.15,194.27 458.22,193.38 458.30,192.48 458.37,191.57 458.44,190.65 458.51,189.72 458.59,188.77 458.66,187.82 458.73,186.86 458.80,185.89 458.87,184.91 458.94,183.93 459.01,182.94 459.08,181.94 459.15,180.94 459.22,179.94 459.28,178.94 459.35,177.93 459.42,176.92 459.49,175.91 459.55,174.91 459.62,173.90 459.69,172.89 459.75,171.89 459.82,170.89 459.88,169.89 459.95,168.90 460.01,167.92 460.07,166.94 460.14,165.97 460.20,165.00 460.26,164.02 460.33,163.05 460.39,162.08 460.45,161.11 460.51,160.13 460.57,159.16 460.62,158.19 460.68,157.22 460.74,156.25 460.79,155.29 460.85,154.32 460.90,153.35 460.96,152.38 461.02,151.42 461.07,150.45 461.13,149.49 461.18,148.52 461.24,147.56 461.29,146.59 461.35,145.62 461.40,144.66 461.46,143.69 461.52,142.73 461.57,141.76 461.63,140.80 461.69,139.83 461.75,138.87 461.81,137.90 461.87,136.93 461.94,135.97 462.00,135.00 462.06,134.03 462.13,133.06 462.20,132.10 462.26,131.13 462.33,130.16 462.40,129.19 462.47,128.22 462.54,127.26 462.61,126.29 462.68,125.32 462.75,124.35 462.82,123.39 462.89,122.42 462.97,121.45 463.04,120.48 463.11,119.52 463.18,118.55 463.26,117.58 463.33,116.61 463.40,115.64 463.48,114.68 463.55,113.71 463.62,112.74 463.70,111.77 463.77,110.81 463.84,109.84 463.91,108.87 463.99,107.90 464.06,106.94 464.13,105.97 464.20,105.00" fill="none" stroke="#ff0000" stroke-width="1.8" stroke-linejoin="round" stroke-linecap="round" />
<polyline points="464.35,106.29 464.92,106.11 465.22,105.67 464.73,104.71 466.20,104.51 466.51,103.45 466.36,103.20 466.65,103.09 466.22,102.16 466.74,102.50 467.52,101.09 467.76,100.57 467.74,100.05 467.20,100.45 467.65,99.16 468.63,99.45 467.86,99.05 468.21,98.21 467.86,98.03 468.50,97.56 468.80,96.26 468.22,95.60 468.01,94.98 468.25,95.12 467.95,94.71 468.41,93.77 469.07,93.46 468.56,92.95 469.12,91.92 469.54,91.37 469.36,91.84 468.58,91.25 469.09,90.49 468.75,89.33 469.05,89.91 469.16,89.15 470.13,88.86 469.52,87.64 469.83,87.63" fill="none" stroke="#ff0000" stroke-width="1.6" stroke-linejoin="round" stroke-linecap="round" />
<polygon points="469.67,86.92 469.99,88.45 471.02,88.70 471.56,88.84 472.16,89.81 472.61,90.63 473.08,91.02 472.71,91.31 473.75,92.03 474.17,93.47 474.01,94.50 474.48,95.41 475.88,95.30 476.25,96.83 476.08,97.44 476.58,98.48 477.71,99.27 477.50,99.04 478.63,100.15 478.54,101.34 479.69,101.32 479.30,102.63 480.00,103.43 480.49,103.85 480.30,104.24 481.12,105.82 481.42,106.59 481.88,107.53 482.34,107.50 482.10,107.89 482.40,109.76 483.75,110.35 483.31,110.97 483.75,112.04 484.76,112.60 485.12,112.89 485.89,114.40 485.71,114.41 486.76,115.50 486.90,115.93 488.02,116.44 487.68,117.76 488.25,118.72 488.80,119.43 489.37,120.04 490.28,120.49 490.18,120.36 490.47,121.05 483.56,123.54 482.11,122.63 482.53,121.99 481.36,121.58 480.94,120.07 481.56,120.01 480.46,118.89 480.24,119.13 479.78,117.52 479.02,116.79 479.32,116.37 478.60,115.57 478.42,114.74 477.25,114.91 476.94,113.25 476.41,112.20 476.67,112.53 475.92,111.69 475.98,110.91 474.62,109.83 474.23,109.62 474.37,108.75 473.54,108.51 473.25,106.79 473.15,106.31 472.05,105.49 471.53,104.73 471.20,104.11 471.23,103.06 470.91,103.11 470.39,102.42 469.41,101.57 469.12,101.41 468.94,100.32 468.93,99.35 468.02,97.84 468.93,97.37 468.18,96.32 468.64,96.28 468.73,94.48 468.15,94.46 468.72,93.56 468.10,92.25 468.40,91.84 468.71,90.34 469.49,89.50 469.56,89.40 469.30,87.84 469.96,86.64" fill="#ff0000" stroke="#ff0000" stroke-width="0.8" stroke-linejoin="round"/>
<polyline points="470.25,92.95 470.32,94.31 470.55,94.96 471.42,95.74 471.73,97.11 471.60,97.96 471.92,98.60 472.77,99.55 473.33,100.95 472.99,101.10 473.94,102.66 474.20,103.30 474.93,104.38 476.01,105.23 475.84,106.11 476.55,107.12 477.06,108.13 478.03,108.95 478.36,109.86 478.66,109.98 479.55,111.22 479.15,112.08 480.05,112.70 481.10,113.49 481.59,114.89 481.45,115.54 482.26,116.13 483.11,117.65 483.87,118.74 484.24,119.81 484.94,120.26" fill="none" stroke="#ffffff" stroke-width="0.55" stroke-linejoin="round" stroke-linecap="round" stroke-opacity="0.75" stroke-dasharray="2 1.5"/>
<polyline points="472.40,92.10 472.51,93.54 473.07,94.37 473.43,95.00 473.91,96.23 473.54,97.07 474.42,97.59 474.71,98.44 475.00,99.48 475.73,100.46 476.75,101.54 477.33,103.03 477.87,103.99 478.07,104.56 478.85,105.32 478.58,106.22 479.41,106.75 479.43,107.68 480.47,109.37 480.94,109.81 480.85,110.20 481.96,111.73 482.28,112.20 482.48,113.11 483.05,114.49 483.78,115.30 484.46,116.17 485.32,117.31 485.32,118.40 486.58,119.08 486.79,120.09" fill="none" stroke="#ffffff" stroke-width="0.55" stroke-linejoin="round" stroke-linecap="round" stroke-opacity="0.75" stroke-dasharray="2 1.5"/>
<polyline points="474.30,109.30 475.38,111.21 475.54,111.07 476.20,113.11 476.61,113.97 477.88,113.76 478.23,115.21 478.59,117.07 478.67,116.20 480.43,117.76 479.89,118.52 480.65,120.54 480.91,120.11 481.91,121.63 482.89,123.08 482.48,122.87 483.66,125.19 483.00,125.63 484.72,126.38 484.30,127.53 485.56,127.33 485.94,128.27 485.57,129.39 486.51,130.39 487.53,132.04 488.62,133.10 489.33,133.55 489.03,133.21 490.20,134.62 491.01,134.53 491.04,136.75 492.33,137.10 492.34,137.29 494.37,138.30 495.49,137.58 495.67,138.31 496.51,137.71 497.46,135.84 497.54,136.68 498.29,134.52 499.27,134.68 500.61,133.40 500.62,133.08 500.79,131.43 501.76,130.99 501.42,129.14 502.06,129.34 503.35,128.88 503.93,126.67 504.40,127.07 504.26,124.39 504.75,123.96 504.90,122.60 505.26,123.14 505.58,121.75 506.22,120.05 507.52,119.30 507.02,118.63 508.18,117.82 508.86,116.67 508.82,116.30 509.18,115.38 509.62,113.39 509.54,113.62 510.82,112.95 511.08,111.32 510.63,110.83 510.84,109.07 511.12,107.99 511.59,107.06 512.39,106.26 511.91,105.68 512.81,104.75 511.97,103.35 513.35,101.69 512.46,101.67 512.80,99.90 513.55,98.84 512.76,97.51 513.08,97.36 513.45,96.02 513.60,95.03 513.76,94.03 513.91,93.02 514.06,91.99 514.21,90.96 514.36,89.92 514.50,88.88 514.65,87.83 514.80,86.78 514.95,85.72 515.10,84.67 515.25,83.62 515.40,82.58 515.55,81.54 515.69,80.50 515.84,79.47 515.99,78.46 516.15,77.45 516.30,76.45 516.45,75.47 516.60,74.51 516.76,73.56 516.91,72.63 517.07,71.71 517.23,70.82 517.38,69.95 517.54,69.11 517.71,68.29 517.87,67.50 518.03,66.73 518.20,66.00 518.47,64.89 518.75,63.86 519.04,62.91 519.32,62.02 519.61,61.16 519.90,60.33 520.19,59.51 520.48,58.68 520.77,57.84 521.05,56.95 521.33,56.01 521.60,55.00 521.81,54.17 522.01,53.31 522.22,52.42 522.42,51.52 522.62,50.59 522.82,49.64 523.02,48.68 523.22,47.71 523.41,46.72 523.61,45.73 523.80,44.74 523.99,43.74 524.18,42.74 524.37,41.75 524.56,40.76 524.75,39.78 524.94,38.81 525.13,37.86 525.31,36.92 525.50,36.00 525.70,35.02 525.90,34.05 526.10,33.09 526.29,32.14 526.49,31.19 526.68,30.25 526.88,29.31 527.07,28.38 527.26,27.45 527.45,26.52 527.65,25.59 527.84,24.66 528.03,23.74 528.22,22.81 528.41,21.87 528.61,20.94 528.80,20.00" fill="none" stroke="#ff0000" stroke-width="1.8" stroke-linejoin="round" stroke-linecap="round" />
<polyline points="476.97,110.54 477.88,110.59 478.06,112.77 478.98,112.04 479.00,113.82 479.21,115.42 479.73,115.10 480.95,116.34 480.31,116.44 481.15,116.69 481.84,119.00 482.02,120.06 483.38,120.25 483.40,120.11 482.75,122.85 483.61,122.00 485.16,124.00 484.29,123.88 484.99,124.58 485.08,125.94 486.12,126.46 486.43,126.62 486.68,129.08 488.48,129.15 487.98,128.97 488.62,130.02 489.18,130.57 490.12,131.01 491.63,132.18 492.04,132.51 492.88,133.97 493.18,132.91 494.20,134.07 495.54,133.84 496.62,133.63 496.92,134.22 497.32,134.68 498.73,132.46 499.03,132.78 498.86,130.92 500.45,131.58 500.73,130.11 501.27,128.93 502.36,129.62 502.10,126.70 502.39,127.58 502.71,125.20 502.90,125.69 504.10,123.90 504.53,124.09 505.55,123.39 505.03,122.48 506.30,121.75 506.39,120.26 506.37,119.97 506.95,118.82 506.64,116.56 507.10,116.76 508.01,115.05 507.73,115.83 507.92,114.91 509.55,113.27 510.33,112.63 508.95,112.32 510.00,111.38 511.01,108.76 509.93,107.59 511.49,108.37 510.75,105.95 511.21,106.53 512.08,105.75 512.68,104.57 512.63,102.01 511.35,102.93 512.59,100.82 511.87,99.89 512.38,99.31 512.71,97.72 512.20,96.79 512.42,95.62" fill="none" stroke="#ff0000" stroke-width="1.6" stroke-linejoin="round" stroke-linecap="round" />
<polyline points="480.97,110.99 481.87,112.38 482.28,111.91 482.74,112.75 481.95,112.73 482.65,113.57 482.58,115.28 483.84,116.28 483.01,115.45 483.72,117.19 485.17,118.40 485.78,118.58 485.71,118.57 485.60,119.01 486.45,120.53 486.98,120.69 487.17,121.01 488.31,122.38 488.65,123.53 488.30,122.62 488.81,124.96 490.25,124.41 490.79,124.79 491.55,124.70 491.97,127.09 492.07,126.33 492.24,126.26 493.12,126.61 493.54,126.85 494.33,127.49 495.58,126.89 497.22,127.06 497.19,128.30 498.30,128.36 498.78,127.96 498.53,127.34 499.67,126.01 501.04,126.43 500.80,125.01 501.15,125.63 502.15,123.48 502.38,122.34 502.25,122.61 503.81,122.68 503.39,121.76 503.19,120.89 504.83,118.99 505.05,120.11 504.40,119.02 505.83,116.85 505.24,117.12 506.16,115.68 506.41,115.93 506.92,115.29 507.25,114.28 507.00,113.25 507.07,112.53 507.53,111.65 507.22,110.93 508.92,110.01 509.28,110.43 508.63,108.35 509.65,109.23 508.90,107.86 509.92,107.01 509.04,105.41 510.31,105.53 510.43,103.99 510.99,104.33 510.49,103.74 510.36,102.27 510.94,102.46 511.87,100.32 511.80,99.47 512.18,100.02 512.04,97.38 511.59,96.93 512.15,95.88 511.59,95.27 513.22,95.62" fill="none" stroke="#ff0000" stroke-width="1.7" stroke-linejoin="round" stroke-linecap="round" />
<polyline points="482.45,111.35 482.98,112.17 482.76,112.97 483.36,113.33 483.86,114.25 483.62,114.12 484.43,115.09 484.79,115.42 485.37,115.56 485.48,116.69 485.11,117.71 485.56,117.68 486.31,118.15 486.59,118.59 487.81,119.16 487.51,119.72 488.79,120.94 489.13,122.12 489.22,121.88 489.56,122.25 490.29,123.76 490.73,123.94 491.76,124.46 492.14,124.43 492.15,124.51 493.66,124.87 494.16,124.85 494.75,124.98 495.69,125.92 495.55,125.71 496.35,125.99 497.14,124.65 498.62,125.08 498.31,124.62 499.90,123.93 500.47,123.79 500.74,123.56 500.86,123.08 501.84,122.85 502.26,121.61 502.68,121.14 503.32,120.22 503.48,119.54 503.52,119.25 503.68,119.05 504.34,117.42 504.73,117.66 504.15,117.07 505.25,115.96 505.63,115.01 505.46,114.46 506.18,113.89 505.84,114.20 506.32,112.79 506.93,111.73 507.34,111.78 507.27,111.27 507.98,109.62 508.34,109.54 508.41,109.08 508.86,108.52 508.30,106.97 508.70,106.44 508.72,106.15 509.23,105.25 509.72,104.20 509.56,103.92 509.93,103.81 510.10,101.90 510.29,101.70 510.28,101.30 510.25,100.91 510.61,99.61 511.02,98.48 510.99,99.11 511.00,97.58 511.97,97.01 512.04,96.85 512.54,95.58 512.23,94.32" fill="none" stroke="#ff0000" stroke-width="1.5" stroke-linejoin="round" stroke-linecap="round" />
<polyline points="467.73,69.80 467.19,70.09 467.00,69.00 468.65,67.83 468.08,68.19 467.20,67.31 468.44,66.92 468.52,65.95 467.69,65.38 468.22,66.18 468.41,65.44 468.09,64.89 467.62,63.67 468.70,63.86 468.29,62.34 468.06,62.04 468.13,62.50 468.02,62.12 469.29,60.29 468.44,60.49 467.84,59.88 469.48,58.88 468.96,58.39 468.98,59.13 468.35,57.21 468.18,57.56 468.10,56.34 469.01,57.17 468.92,55.84 469.35,54.85 469.29,54.48 469.39,55.23 468.44,54.09 469.48,52.94 468.91,53.79 470.27,51.89 469.79,52.72 468.99,51.68 468.69,50.79 469.87,50.64 470.09,49.34" fill="none" stroke="#ff0000" stroke-width="1.3" stroke-linejoin="round" stroke-linecap="round" />
<polygon points="469.4,50 471.4,54 472.6,59 472.8,64.5 471.2,64 470.4,58" fill="#ff0000"/>
<line x1="344.5" y1="139" x2="349" y2="254" stroke="#000" stroke-width="2.0" stroke-dasharray="2.4 1.5"/>
<line x1="452.3" y1="254" x2="463.1" y2="139.2" stroke="#000" stroke-width="2.0" stroke-dasharray="2.4 1.5"/>
<rect x="50.0" y="12.0" width="219.39999999999998" height="242.8" fill="none" stroke="#333333" stroke-width="1.5"/>
<line x1="50.05" y1="254.8" x2="50.05" y2="252.20000000000002" stroke="#333333" stroke-width="1.1"/>
<line x1="50.05" y1="12.0" x2="50.05" y2="14.6" stroke="#333333" stroke-width="1.1"/>
<line x1="93.90" y1="254.8" x2="93.90" y2="252.20000000000002" stroke="#333333" stroke-width="1.1"/>
<line x1="93.90" y1="12.0" x2="93.90" y2="14.6" stroke="#333333" stroke-width="1.1"/>
<line x1="137.75" y1="254.8" x2="137.75" y2="252.20000000000002" stroke="#333333" stroke-width="1.1"/>
<line x1="137.75" y1="12.0" x2="137.75" y2="14.6" stroke="#333333" stroke-width="1.1"/>
<line x1="181.60" y1="254.8" x2="181.60" y2="252.20000000000002" stroke="#333333" stroke-width="1.1"/>
<line x1="181.60" y1="12.0" x2="181.60" y2="14.6" stroke="#333333" stroke-width="1.1"/>
<line x1="225.45" y1="254.8" x2="225.45" y2="252.20000000000002" stroke="#333333" stroke-width="1.1"/>
<line x1="225.45" y1="12.0" x2="225.45" y2="14.6" stroke="#333333" stroke-width="1.1"/>
<line x1="269.30" y1="254.8" x2="269.30" y2="252.20000000000002" stroke="#333333" stroke-width="1.1"/>
<line x1="269.30" y1="12.0" x2="269.30" y2="14.6" stroke="#333333" stroke-width="1.1"/>
<line x1="50.0" y1="254.80" x2="52.6" y2="254.80" stroke="#333333" stroke-width="1.1"/>
<line x1="269.4" y1="254.80" x2="266.79999999999995" y2="254.80" stroke="#333333" stroke-width="1.1"/>
<line x1="50.0" y1="224.45" x2="52.6" y2="224.45" stroke="#333333" stroke-width="1.1"/>
<line x1="269.4" y1="224.45" x2="266.79999999999995" y2="224.45" stroke="#333333" stroke-width="1.1"/>
<line x1="50.0" y1="194.10" x2="52.6" y2="194.10" stroke="#333333" stroke-width="1.1"/>
<line x1="269.4" y1="194.10" x2="266.79999999999995" y2="194.10" stroke="#333333" stroke-width="1.1"/>
<line x1="50.0" y1="163.75" x2="52.6" y2="163.75" stroke="#333333" stroke-width="1.1"/>
<line x1="269.4" y1="163.75" x2="266.79999999999995" y2="163.75" stroke="#333333" stroke-width="1.1"/>
<line x1="50.0" y1="133.40" x2="52.6" y2="133.40" stroke="#333333" stroke-width="1.1"/>
<line x1="269.4" y1="133.40" x2="266.79999999999995" y2="133.40" stroke="#333333" stroke-width="1.1"/>
<line x1="50.0" y1="103.05" x2="52.6" y2="103.05" stroke="#333333" stroke-width="1.1"/>
<line x1="269.4" y1="103.05" x2="266.79999999999995" y2="103.05" stroke="#333333" stroke-width="1.1"/>
<line x1="50.0" y1="72.70" x2="52.6" y2="72.70" stroke="#333333" stroke-width="1.1"/>
<line x1="269.4" y1="72.70" x2="266.79999999999995" y2="72.70" stroke="#333333" stroke-width="1.1"/>
<line x1="50.0" y1="42.35" x2="52.6" y2="42.35" stroke="#333333" stroke-width="1.1"/>
<line x1="269.4" y1="42.35" x2="266.79999999999995" y2="42.35" stroke="#333333" stroke-width="1.1"/>
<line x1="50.0" y1="12.00" x2="52.6" y2="12.00" stroke="#333333" stroke-width="1.1"/>
<line x1="269.4" y1="12.00" x2="266.79999999999995" y2="12.00" stroke="#333333" stroke-width="1.1"/>
<rect x="327.2" y="12.0" width="218.8" height="242.8" fill="none" stroke="#333333" stroke-width="1.5"/>
<line x1="359.63" y1="254.8" x2="359.63" y2="252.20000000000002" stroke="#333333" stroke-width="1.1"/>
<line x1="359.63" y1="12.0" x2="359.63" y2="14.6" stroke="#333333" stroke-width="1.1"/>
<line x1="400.10" y1="254.8" x2="400.10" y2="252.20000000000002" stroke="#333333" stroke-width="1.1"/>
<line x1="400.10" y1="12.0" x2="400.10" y2="14.6" stroke="#333333" stroke-width="1.1"/>
<line x1="440.57" y1="254.8" x2="440.57" y2="252.20000000000002" stroke="#333333" stroke-width="1.1"/>
<line x1="440.57" y1="12.0" x2="440.57" y2="14.6" stroke="#333333" stroke-width="1.1"/>
<line x1="481.03" y1="254.8" x2="481.03" y2="252.20000000000002" stroke="#333333" stroke-width="1.1"/>
<line x1="481.03" y1="12.0" x2="481.03" y2="14.6" stroke="#333333" stroke-width="1.1"/>
<line x1="521.50" y1="254.8" x2="521.50" y2="252.20000000000002" stroke="#333333" stroke-width="1.1"/>
<line x1="521.50" y1="12.0" x2="521.50" y2="14.6" stroke="#333333" stroke-width="1.1"/>
<line x1="327.2" y1="254.80" x2="329.8" y2="254.80" stroke="#333333" stroke-width="1.1"/>
<line x1="546.0" y1="254.80" x2="543.4" y2="254.80" stroke="#333333" stroke-width="1.1"/>
<line x1="327.2" y1="224.45" x2="329.8" y2="224.45" stroke="#333333" stroke-width="1.1"/>
<line x1="546.0" y1="224.45" x2="543.4" y2="224.45" stroke="#333333" stroke-width="1.1"/>
<line x1="327.2" y1="194.10" x2="329.8" y2="194.10" stroke="#333333" stroke-width="1.1"/>
<line x1="546.0" y1="194.10" x2="543.4" y2="194.10" stroke="#333333" stroke-width="1.1"/>
<line x1="327.2" y1="163.75" x2="329.8" y2="163.75" stroke="#333333" stroke-width="1.1"/>
<line x1="546.0" y1="163.75" x2="543.4" y2="163.75" stroke="#333333" stroke-width="1.1"/>
<line x1="327.2" y1="133.40" x2="329.8" y2="133.40" stroke="#333333" stroke-width="1.1"/>
<line x1="546.0" y1="133.40" x2="543.4" y2="133.40" stroke="#333333" stroke-width="1.1"/>
<line x1="327.2" y1="103.05" x2="329.8" y2="103.05" stroke="#333333" stroke-width="1.1"/>
<line x1="546.0" y1="103.05" x2="543.4" y2="103.05" stroke="#333333" stroke-width="1.1"/>
<line x1="327.2" y1="72.70" x2="329.8" y2="72.70" stroke="#333333" stroke-width="1.1"/>
<line x1="546.0" y1="72.70" x2="543.4" y2="72.70" stroke="#333333" stroke-width="1.1"/>
<line x1="327.2" y1="42.35" x2="329.8" y2="42.35" stroke="#333333" stroke-width="1.1"/>
<line x1="546.0" y1="42.35" x2="543.4" y2="42.35" stroke="#333333" stroke-width="1.1"/>
<line x1="327.2" y1="12.00" x2="329.8" y2="12.00" stroke="#333333" stroke-width="1.1"/>
<line x1="546.0" y1="12.00" x2="543.4" y2="12.00" stroke="#333333" stroke-width="1.1"/>
<polyline points="82.00,254.30 181.60,254.30" fill="none" stroke="#0000ff" stroke-width="1.8" stroke-linejoin="round" stroke-linecap="round" />
<polyline points="352.00,254.30 450.70,254.30" fill="none" stroke="#ff0000" stroke-width="1.5" stroke-linejoin="round" stroke-linecap="round" />
<text transform="translate(49.75,267.9) scale(1.04,1.1)" text-anchor="middle" class="tk">-4</text>
<text transform="translate(93.60,267.9) scale(1.04,1.1)" text-anchor="middle" class="tk">-2</text>
<text transform="translate(137.45,267.9) scale(1.04,1.1)" text-anchor="middle" class="tk">0</text>
<text transform="translate(181.30,267.9) scale(1.04,1.1)" text-anchor="middle" class="tk">2</text>
<text transform="translate(225.15,267.9) scale(1.04,1.1)" text-anchor="middle" class="tk">4</text>
<text transform="translate(269.00,267.9) scale(1.04,1.1)" text-anchor="middle" class="tk">6</text>
<text transform="translate(47.70,257.80) scale(1.04,1.1)" text-anchor="end" class="tk">0</text>
<text transform="translate(47.70,227.45) scale(1.04,1.1)" text-anchor="end" class="tk">50</text>
<text transform="translate(47.70,197.10) scale(1.04,1.1)" text-anchor="end" class="tk">100</text>
<text transform="translate(47.70,166.75) scale(1.04,1.1)" text-anchor="end" class="tk">150</text>
<text transform="translate(47.70,136.40) scale(1.04,1.1)" text-anchor="end" class="tk">200</text>
<text transform="translate(47.70,106.05) scale(1.04,1.1)" text-anchor="end" class="tk">250</text>
<text transform="translate(47.70,75.70) scale(1.04,1.1)" text-anchor="end" class="tk">300</text>
<text transform="translate(47.70,45.35) scale(1.04,1.1)" text-anchor="end" class="tk">350</text>
<text transform="translate(47.70,15.00) scale(1.04,1.1)" text-anchor="end" class="tk">400</text>
<text transform="translate(359.33,267.9) scale(1.04,1.1)" text-anchor="middle" class="tk">-0.5</text>
<text transform="translate(399.80,267.9) scale(1.04,1.1)" text-anchor="middle" class="tk">0</text>
<text transform="translate(440.27,267.9) scale(1.04,1.1)" text-anchor="middle" class="tk">0.5</text>
<text transform="translate(480.73,267.9) scale(1.04,1.1)" text-anchor="middle" class="tk">1</text>
<text transform="translate(521.20,267.9) scale(1.04,1.1)" text-anchor="middle" class="tk">1.5</text>
<text transform="translate(324.90,257.80) scale(1.04,1.1)" text-anchor="end" class="tk">0</text>
<text transform="translate(324.90,227.45) scale(1.04,1.1)" text-anchor="end" class="tk">50</text>
<text transform="translate(324.90,197.10) scale(1.04,1.1)" text-anchor="end" class="tk">100</text>
<text transform="translate(324.90,166.75) scale(1.04,1.1)" text-anchor="end" class="tk">150</text>
<text transform="translate(324.90,136.40) scale(1.04,1.1)" text-anchor="end" class="tk">200</text>
<text transform="translate(324.90,106.05) scale(1.04,1.1)" text-anchor="end" class="tk">250</text>
<text transform="translate(324.90,75.70) scale(1.04,1.1)" text-anchor="end" class="tk">300</text>
<text transform="translate(324.90,45.35) scale(1.04,1.1)" text-anchor="end" class="tk">350</text>
<text transform="translate(324.90,15.00) scale(1.04,1.1)" text-anchor="end" class="tk">400</text>
<line x1="370.60" y1="171.00" x2="356.30" y2="188.61" stroke="#0000ff" stroke-width="1.1"/><polygon points="349.80,196.60 355.61,182.63 356.30,188.61 362.28,188.06" fill="#0000ff"/>
<line x1="402.10" y1="219.60" x2="402.10" y2="241.40" stroke="#000" stroke-width="1.1"/><polygon points="402.10,251.70 397.80,237.20 402.10,241.40 406.40,237.20" fill="#000"/>
<line x1="432.90" y1="175.50" x2="446.61" y2="194.19" stroke="#7b1c1c" stroke-width="1.1"/><polygon points="452.70,202.50 440.66,193.35 446.61,194.19 447.59,188.26" fill="#7b1c1c"/>
<line x1="497.10" y1="26.60" x2="480.48" y2="41.44" stroke="#d81010" stroke-width="1.1"/><polygon points="472.80,48.30 480.75,35.43 480.48,41.44 486.48,41.85" fill="#d81010"/>
<line x1="496.60" y1="88.50" x2="496.60" y2="112.20" stroke="#ff0000" stroke-width="1.1"/><polygon points="496.60,122.50 492.30,108.00 496.60,112.20 500.90,108.00" fill="#ff0000"/>
<text x="377.0" y="170.5" text-anchor="middle" class="al alb" style="fill:#2233ff;stroke:#2233ff">(1)</text>
<rect x="397.6" y="208.3" width="11.8" height="11.5" fill="#fff"/>
<text x="403.5" y="217.2" text-anchor="middle" class="al" fill="#000">(2)</text>
<text x="428.2" y="173.1" text-anchor="middle" class="al" fill="#7b1c1c">(3)</text>
<text x="503.6" y="26.8" text-anchor="middle" class="al alb" style="fill:#d01010;stroke:#d01010">(4)</text>
<text x="496.5" y="86.0" text-anchor="middle" class="al alb" style="fill:#ff2020;stroke:#ff2020">(5)</text>
<rect x="355" y="24" width="97.5" height="91" fill="#fff"/>
<polyline points="361.90,27.00 362.31,27.90 362.72,28.80 363.13,29.70 363.54,30.60 363.96,31.50 364.37,32.40 364.78,33.30 365.19,34.20 365.59,35.10 366.00,36.00 366.40,36.90 366.80,37.81 367.20,38.72 367.60,39.63 367.99,40.54 368.39,41.44 368.79,42.34 369.19,43.24 369.59,44.13 370.00,45.00 370.43,45.92 370.87,46.84 371.30,47.76 371.74,48.67 372.18,49.57 372.62,50.46 373.08,51.33 373.53,52.18 374.00,53.00 374.47,53.82 374.95,54.63 375.42,55.44 375.90,56.22 376.40,56.97 376.91,57.69 377.44,58.37 378.00,59.00 378.70,59.72 379.44,60.44 380.21,61.10 380.98,61.67 381.75,62.08 382.50,62.30 383.40,62.28 384.28,62.01 385.16,61.56 386.00,61.00 386.61,60.49 387.20,59.86 387.77,59.15 388.34,58.38 388.89,57.58 389.45,56.78 390.00,56.00 390.51,55.28 391.01,54.54 391.51,53.79 392.01,53.02 392.50,52.26 393.00,51.49 393.50,50.74 394.00,50.00 394.55,49.17 395.10,48.31 395.64,47.44 396.19,46.60 396.76,45.82 397.36,45.11 398.00,44.50 398.81,43.89 399.67,43.35 400.56,42.91 401.44,42.62 402.30,42.50 403.25,42.61 404.18,42.94 405.10,43.43 406.00,44.00 406.70,44.52 407.40,45.15 408.08,45.83 408.74,46.56 409.39,47.29 410.00,48.00 410.53,48.67 411.03,49.38 411.50,50.09 411.97,50.78 412.47,51.42 413.00,52.00 413.77,52.72 414.59,53.39 415.43,53.92 416.30,54.20 417.20,54.18 418.14,53.93 419.09,53.51 420.00,53.00 420.70,52.51 421.39,51.92 422.06,51.25 422.72,50.53 423.36,49.77 424.00,49.00 424.53,48.33 425.04,47.61 425.54,46.87 426.03,46.10 426.52,45.32 427.01,44.54 427.50,43.76 428.00,43.00 428.50,42.25 429.00,41.50 429.50,40.75 430.00,40.00 430.50,39.25 431.00,38.50 431.50,37.75 432.00,37.00 432.50,36.25 433.00,35.50 433.50,34.74 434.00,33.99 434.50,33.24 435.00,32.49 435.50,31.74 436.00,31.00 436.56,30.18 437.12,29.36 437.67,28.55 438.23,27.73 438.79,26.92 439.34,26.11 439.90,25.30" fill="none" stroke="#000" stroke-width="1.5" stroke-linejoin="round" stroke-linecap="round" />
<line x1="384.2" y1="41.6" x2="437" y2="41.6" stroke="#f03030" stroke-width="0.9" stroke-dasharray="1.1 0.9"/>
<line x1="384.2" y1="54.5" x2="437" y2="54.5" stroke="#f03030" stroke-width="0.9" stroke-dasharray="1.1 0.9"/>
<line x1="384.2" y1="61.2" x2="437" y2="61.2" stroke="#c03030" stroke-width="0.9" stroke-dasharray="1.1 0.9"/>
<line x1="384.3" y1="76.4" x2="436" y2="76.4" stroke="#202020" stroke-width="0.9" stroke-dasharray="1.1 0.9"/>
<line x1="385.2" y1="89.3" x2="436" y2="89.3" stroke="#3838ff" stroke-width="0.9" stroke-dasharray="1.1 0.9"/>
<line x1="375.4" y1="84.6" x2="426.4" y2="84.6" stroke="#1a9a1a" stroke-width="1.1" stroke-dasharray="1.3 0.9"/>
<line x1="375.6" y1="63.6" x2="390" y2="63.6" stroke="#202020" stroke-width="1.1" stroke-dasharray="1.3 0.9"/>
<polyline points="366.40,112.50 367.30,111.03 368.20,109.56 369.10,108.11 370.00,106.67 370.90,105.25 371.80,103.84 372.70,102.45 373.60,101.08 374.50,99.75 375.40,98.45 376.30,97.19 377.20,95.98 378.10,94.84 379.00,93.77 379.90,92.81 380.80,91.96 381.70,91.26 382.60,90.74 383.50,90.41 384.40,90.30 385.30,90.41 386.20,90.74 387.10,91.26 388.00,91.96 388.90,92.81 389.80,93.77 390.70,94.84 391.60,95.98 392.50,97.19 393.40,98.45 394.30,99.75 395.20,101.08 396.10,102.45 397.00,103.84 397.90,105.25 398.80,106.67 399.70,108.11 400.60,109.56 401.50,111.03 402.40,112.50" fill="none" stroke="#1a8c1a" stroke-width="1.5" stroke-linejoin="round" stroke-linecap="round" />
<polyline points="372.60,112.80 373.19,111.86 373.78,110.92 374.37,109.99 374.96,109.07 375.55,108.16 376.14,107.26 376.73,106.37 377.32,105.50 377.91,104.64 378.50,103.81 379.09,103.00 379.68,102.23 380.27,101.50 380.86,100.82 381.45,100.20 382.04,99.66 382.63,99.22 383.22,98.88 383.81,98.67 384.40,98.60 384.99,98.67 385.58,98.88 386.17,99.22 386.76,99.66 387.35,100.20 387.94,100.82 388.53,101.50 389.12,102.23 389.71,103.00 390.30,103.81 390.89,104.64 391.48,105.50 392.07,106.37 392.66,107.26 393.25,108.16 393.84,109.07 394.43,109.99 395.02,110.92 395.61,111.86 396.20,112.80" fill="none" stroke="#1a8c1a" stroke-width="1.5" stroke-linejoin="round" stroke-linecap="round" />
<polyline points="403.30,98.00 404.17,97.13 405.03,96.27 405.90,95.41 406.76,94.57 407.62,93.74 408.49,92.93 409.36,92.13 410.22,91.35 411.09,90.60 411.95,89.87 412.81,89.17 413.68,88.52 414.55,87.90 415.41,87.34 416.28,86.84 417.14,86.41 418.00,86.07 418.87,85.81 419.74,85.65 420.60,85.60 421.47,85.65 422.33,85.81 423.19,86.07 424.06,86.41 424.93,86.84 425.79,87.34 426.66,87.90 427.52,88.52 428.39,89.17 429.25,89.87 430.12,90.60 430.98,91.35 431.85,92.13 432.71,92.93 433.58,93.74 434.44,94.57 435.31,95.41 436.17,96.27 437.04,97.13 437.90,98.00" fill="none" stroke="#1a8c1a" stroke-width="1.5" stroke-linejoin="round" stroke-linecap="round" />
<line x1="376.4" y1="67.5" x2="376.4" y2="81.5" stroke="#222" stroke-width="0.8"/>
<polygon points="376.4,82.6 375.3,79 377.5,79" fill="#222"/>
<polygon points="376.4,66.6 375.4,69.6 377.4,69.6" fill="#222"/>
<line x1="449.7" y1="42" x2="449.7" y2="93" stroke="#333" stroke-width="0.9"/>
<polygon points="449.7,38.4 448.1,43.6 451.3,43.6" fill="#111"/>
<text transform="translate(372.9,33.9) scale(1,1.22)" class="it9" style="font-size:9.7px">CB</text>
<text x="412.7" y="49.8" class="it9i">Q</text>
<text x="368.2" y="65.0" class="it9i">K</text>
<text x="356.6" y="76.7" class="it9i" style="font-size:11px">E<tspan style="font-size:7.6px" dy="2.6">gap</tspan></text>
<text transform="translate(358.5,94.2) scale(1,1.12)" class="it9" style="fill:#1a8c1a;font-size:10px">VB</text>
<text x="429.8" y="86.7" class="it9i">Γ</text>
<rect x="451" y="61.5" width="11.8" height="12.5" fill="#fff"/>
<text x="451.6" y="70.5" class="it9i" style="font-size:10.8px">E<tspan style="font-size:7px;font-style:normal" dy="2.2">F</tspan></text>
<text x="442.4" y="44.4" text-anchor="middle" class="il" fill="#ff2222">(5)</text>
<text x="442.4" y="57.1" text-anchor="middle" class="il" fill="#ff2222">(4)</text>
<text x="442.4" y="66.4" text-anchor="middle" class="il" fill="#8b2222">(3)</text>
<text x="442.4" y="78.8" text-anchor="middle" class="il" fill="#111">(2)</text>
<text x="442.4" y="90.7" text-anchor="middle" class="il" fill="#2222ff">(1)</text>
<text x="3.8" y="14.4" class="pl">(a)</text>
<text x="284.2" y="14.4" class="pl">(b)</text>
<text transform="translate(142.1,281.6) skewX(-10)" class="xl" style="font-style:italic">V</text><text x="150.9" y="284.4" class="xl xsub">g</text><text x="155.5" y="281.6" class="xl">(V)</text>
<text transform="translate(414.6,281.6) skewX(-10)" class="xl" style="font-style:italic">V</text><text x="423.4" y="284.4" class="xl xsub">ref</text><text x="433.4" y="281.6" class="xl">(V)</text>
<g transform="translate(21.4,155.1) rotate(-90)"><text transform="translate(-0.8,0) skewX(-10)" class="yl" style="font-style:italic">I</text><text x="4.47" y="2.8" class="yl xsub">ds</text><text x="12.5" y="0" class="yl">(nA)</text></g>
<g transform="translate(299.4,155.1) rotate(-90)"><text transform="translate(-0.8,0) skewX(-10)" class="yl" style="font-style:italic">I</text><text x="4.47" y="2.8" class="yl xsub">ds</text><text x="12.5" y="0" class="yl">(nA)</text></g>
</svg></body></html>
